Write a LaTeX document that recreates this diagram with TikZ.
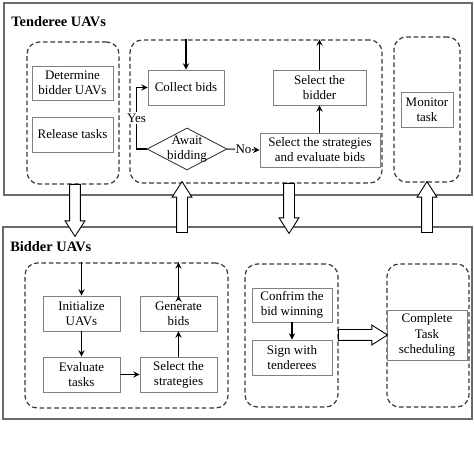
\documentclass[tikz,border=0pt]{standalone}
\usepackage{fontspec}
\setmainfont{Liberation Serif}
\usetikzlibrary{shapes,positioning,arrows,calc}
\definecolor{boxgray}{HTML}{808080}
\definecolor{outgray}{HTML}{6A6A6A}
\definecolor{dashgray}{HTML}{383838}
\tikzstyle{outer} = [rectangle, draw=outgray, line width=0.9pt]
\tikzstyle{group} = [rectangle, rounded corners=7pt, draw=dashgray, line width=0.7pt, dash pattern=on 2.6pt off 1.6pt]
\tikzstyle{proc} = [rectangle, draw=boxgray, fill=white, line width=0.5pt, align=center, inner sep=1pt]
\tikzstyle{dia} = [diamond, draw=dashgray, line width=0.5pt, inner sep=0pt]
\tikzstyle{title} = [font=\fontsize{8.2}{10}\selectfont\bfseries, inner sep=0pt]
\tikzstyle{arrow} = [->,>=stealth, line width=0.6pt]
\tikzstyle{bigarrow} = [single arrow, draw=black, fill=white, line width=0.5pt, inner xsep=0pt, inner ysep=0.1cm, single arrow head extend=0.09cm, single arrow tip angle=65]
\tikzset{sz/.style 2 args={minimum width=#1*0.02cm, minimum height=#2*0.02cm}}

\begin{document}
\begin{tikzpicture}[x=0.02cm,y=-0.02cm, font=\fontsize{7.4}{8.6}\selectfont]
\useasboundingbox (0,0) rectangle (474,449);

% tenderee side
\node[outer, sz={468}{192}] (tend) at (238,99) {};
\node[title, anchor=west] (tendT) at (11,22) {Tenderee UAVs};

\node[group, sz={92}{142}] (g1) at (73,113) {};
\node[proc, sz={81}{34}] (det) at (72.5,83) {Determine\\bidder UAVs};
\node[proc, sz={81}{35}] (rel) at (72.5,134.5) {Release tasks};

\node[group, sz={252}{143}] (g2) at (256,111.5) {};
\node[proc, sz={76}{35}] (col) at (186,87.5) {Collect bids};
\node[dia, sz={80}{42}] (await) at (187,149) {};
\node[align=center, inner sep=0pt] (awaitT) at (await.center) {Await\\bidding};
\node[proc, sz={120}{34}] (strat) at (320,150) {Select the strategies\\and evaluate bids};
\node[proc, sz={93}{35}] (bid) at (319.5,87.5) {Select the\\bidder};

\node[group, sz={66}{145}] (g3) at (427,109.5) {};
\node[proc, sz={52}{35}] (mon) at (427,109.5) {Monitor\\task};

% bidder side
\node[outer, sz={469}{192}] (bidr) at (237.5,323) {};
\node[title, anchor=west] (bidrT) at (10,247) {Bidder UAVs};

\node[group, sz={203}{145}] (g4) at (126.5,335.5) {};
\node[proc, sz={77}{35}] (ini) at (81.5,313.5) {Initialize\\UAVs};
\node[proc, sz={77}{35}] (gen) at (178.5,313.5) {Generate\\bids};
\node[proc, sz={77}{35}] (eva) at (81.5,374.5) {Evaluate\\tasks};
\node[proc, sz={77}{35}] (sel) at (178.5,374.5) {Select the\\strategies};

\node[group, sz={93}{143}] (g5) at (291.5,335.5) {};
\node[proc, sz={80}{34}] (cfm) at (292,305) {Confrim the\\bid winning};
\node[proc, sz={80}{35}] (sgn) at (292,357.5) {Sign with\\tenderees};

\node[group, sz={82}{143}] (g6) at (428,335.5) {};
\node[proc, sz={80}{50}] (cmp) at (427,335) {Complete\\Task\\scheduling};

% block arrows between the sides
\node[bigarrow, rotate=-90, anchor=tail, minimum height=1.04cm] (b1) at (75,184) {};
\node[bigarrow, rotate=90, anchor=tail, minimum height=1.02cm] (b2) at (182,233) {};
\node[bigarrow, rotate=-90, anchor=tail, minimum height=1.0cm] (b3) at (289,183) {};
\node[bigarrow, rotate=90, anchor=tail, minimum height=1.02cm] (b4) at (427,233) {};
\node[bigarrow, anchor=tail, minimum height=0.98cm] (b5) at (338,335) {};

\draw[arrow]
	(col.north |- g2.north) edge (col.north)
	(strat.north -| bid.south) edge (bid.south)
	(bid.north) edge (bid.north |- g2.north)
	(await.east) edge node[fill=white, inner sep=0.5pt]{No} (strat.west)
	(await.west) -- ++(-10,0) |- node[pos=0.25, fill=white, inner sep=1pt]{Yes} (col.west);

\draw[arrow]
	(ini.north |- g4.north) edge (ini.north)
	(ini) edge (eva)
	(eva) edge (sel)
	(sel) edge (gen)
	(gen.north) edge (gen.north |- g4.north)
	(cfm) edge (sgn);

\end{tikzpicture}
\end{document}
